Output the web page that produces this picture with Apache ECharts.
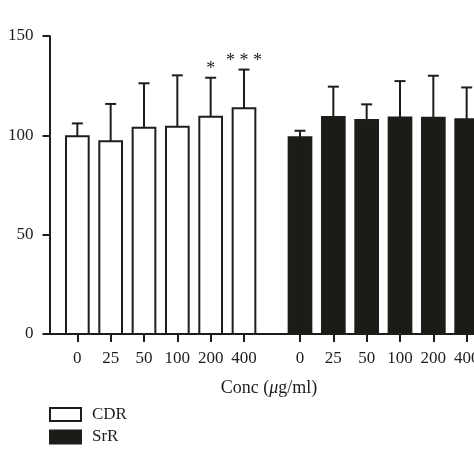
<!DOCTYPE html>
<html>
<head>
<meta charset="utf-8">
<script src="https://cdn.jsdelivr.net/npm/echarts@6/dist/echarts.min.js"></script>
<style>
  html, body { margin: 0; padding: 0; background: #fff; }
  #main { width: 474px; height: 474px; }
</style>
</head>
<body>
<div id="main"></div>
<script>
// 浓度分组
var concLabels = ['0', '25', '50', '100', '200', '400'];
// CDR 组 均值 / 误差上端
var cdrMean = [99.5, 97, 103.8, 104.3, 109.4, 113.6];
var cdrUpper = [106, 115.8, 126.2, 130.2, 129, 133.1];
var cdrSig = ['', '', '', '', '*', '* * *'];
// SrR 组
var srrMean = [99, 109.2, 107.7, 109, 108.9, 108.1];
var srrUpper = [102.3, 124.5, 115.6, 127.3, 130, 124.1];
var srrSig = ['', '', '', '', '', ''];
var yTicks = [0, 50, 100, 150];

var ink = '#1f1d1a';
var srrFill = '#1c1b18';
var font = '"Liberation Serif", "DejaVu Serif", serif';
var barW = 22.7;

// 两组在 x 轴上的位置（两组之间留空隙）
var cdrPos = concLabels.map(function (c, i) { return 1 + i; });
var srrPos = concLabels.map(function (c, i) { return 7.68 + i; });
var allPos = cdrPos.concat(srrPos);
var allLabels = concLabels.concat(concLabels);

function labelFor(v) {
  for (var i = 0; i < allPos.length; i++) {
    if (Math.abs(allPos[i] - v) < 1e-6) return allLabels[i];
  }
  return '';
}

function barData(pos, mean) {
  return pos.map(function (p, i) { return [p, mean[i]]; });
}
function errData(pos, mean, upper, sig) {
  return pos.map(function (p, i) { return [p, mean[i], upper[i], sig[i]]; });
}

// 柱子：用 custom 画，避免 value 轴因柱宽自动扩展范围
function makeBarRenderer(fill) {
  return function (params, api) {
    var top = api.coord([api.value(0), api.value(1)]);
    var base = api.coord([api.value(0), 0]);
    return {
      type: 'rect',
      shape: { x: top[0] - barW / 2, y: top[1], width: barW, height: base[1] - top[1] },
      style: { fill: fill, stroke: ink, lineWidth: 2 }
    };
  };
}

function renderErr(params, api) {
  var x = api.value(0);
  var top = api.coord([x, api.value(1)]);
  var hi = api.coord([x, api.value(2)]);
  var sig = api.value(3);
  var children = [
    { type: 'line', shape: { x1: top[0], y1: top[1], x2: hi[0], y2: hi[1] },
      style: { stroke: ink, lineWidth: 2 } },
    { type: 'line', shape: { x1: hi[0] - 5.5, y1: hi[1], x2: hi[0] + 5.5, y2: hi[1] },
      style: { stroke: ink, lineWidth: 2 } }
  ];
  if (sig) {
    children.push({
      type: 'text',
      style: { x: hi[0], y: hi[1] - 8, text: sig, textAlign: 'center', textVerticalAlign: 'middle',
        fill: ink, font: '18px ' + font }
    });
  }
  return { type: 'group', children: children };
}

var chart = echarts.init(document.getElementById('main'));
chart.setOption({
  animation: false,
  backgroundColor: '#fff',
  grid: { left: 49.5, right: 0, top: 36, bottom: 140, containLabel: false, outerBoundsMode: 'none' },
  legend: {
    orient: 'vertical',
    left: 44,
    top: 401,
    itemWidth: 31,
    itemHeight: 13,
    itemGap: 5.5,
    data: [
      { name: 'CDR', icon: 'rect', itemStyle: { color: '#fff', borderColor: ink, borderWidth: 2 } },
      { name: 'SrR', icon: 'rect', itemStyle: { color: srrFill, borderColor: ink, borderWidth: 2 } }
    ],
    textStyle: { fontFamily: font, fontSize: 17, color: ink, padding: [0, 0, 0, 6] }
  },
  xAxis: {
    type: 'value',
    min: 0.165,
    max: 12.9,
    axisLine: { lineStyle: { color: ink, width: 2 } },
    axisTick: { customValues: allPos, length: 8, lineStyle: { color: ink, width: 2 } },
    axisLabel: {
      customValues: allPos,
      formatter: labelFor,
      margin: 16,
      hideOverlap: false,
      fontFamily: font, fontSize: 17, color: ink
    },
    splitLine: { show: false }
  },
  yAxis: {
    type: 'value',
    min: 0,
    max: 150,
    interval: 50,
    axisLine: { show: true, lineStyle: { color: ink, width: 2 } },
    axisTick: { show: true, length: 7, lineStyle: { color: ink, width: 2 } },
    axisLabel: { margin: 16, fontFamily: font, fontSize: 17, color: ink,
      formatter: function (v) { return yTicks.indexOf(v) >= 0 ? String(v) : ''; } },
    splitLine: { show: false }
  },
  graphic: [{
    type: 'text',
    x: 269,
    y: 388,
    style: {
      text: '{n|Conc (}{i|μ}{n|g/ml)}',
      textAlign: 'center',
      textVerticalAlign: 'middle',
      rich: {
        n: { fontFamily: font, fontSize: 18, fill: ink },
        i: { fontFamily: font, fontSize: 18, fontStyle: 'italic', fill: ink }
      }
    }
  }],
  series: [
    {
      name: 'CDR',
      type: 'custom',
      renderItem: makeBarRenderer('#fff'),
      itemStyle: { color: '#fff', borderColor: ink, borderWidth: 2 },
      z: 2,
      data: barData(cdrPos, cdrMean)
    },
    {
      name: 'SrR',
      type: 'custom',
      renderItem: makeBarRenderer(srrFill),
      itemStyle: { color: srrFill, borderColor: ink, borderWidth: 2 },
      z: 2,
      data: barData(srrPos, srrMean)
    },
    {
      type: 'custom',
      renderItem: renderErr,
      clip: false,
      z: 3,
      data: errData(cdrPos, cdrMean, cdrUpper, cdrSig).concat(errData(srrPos, srrMean, srrUpper, srrSig))
    }
  ]
});
</script>
</body>
</html>
